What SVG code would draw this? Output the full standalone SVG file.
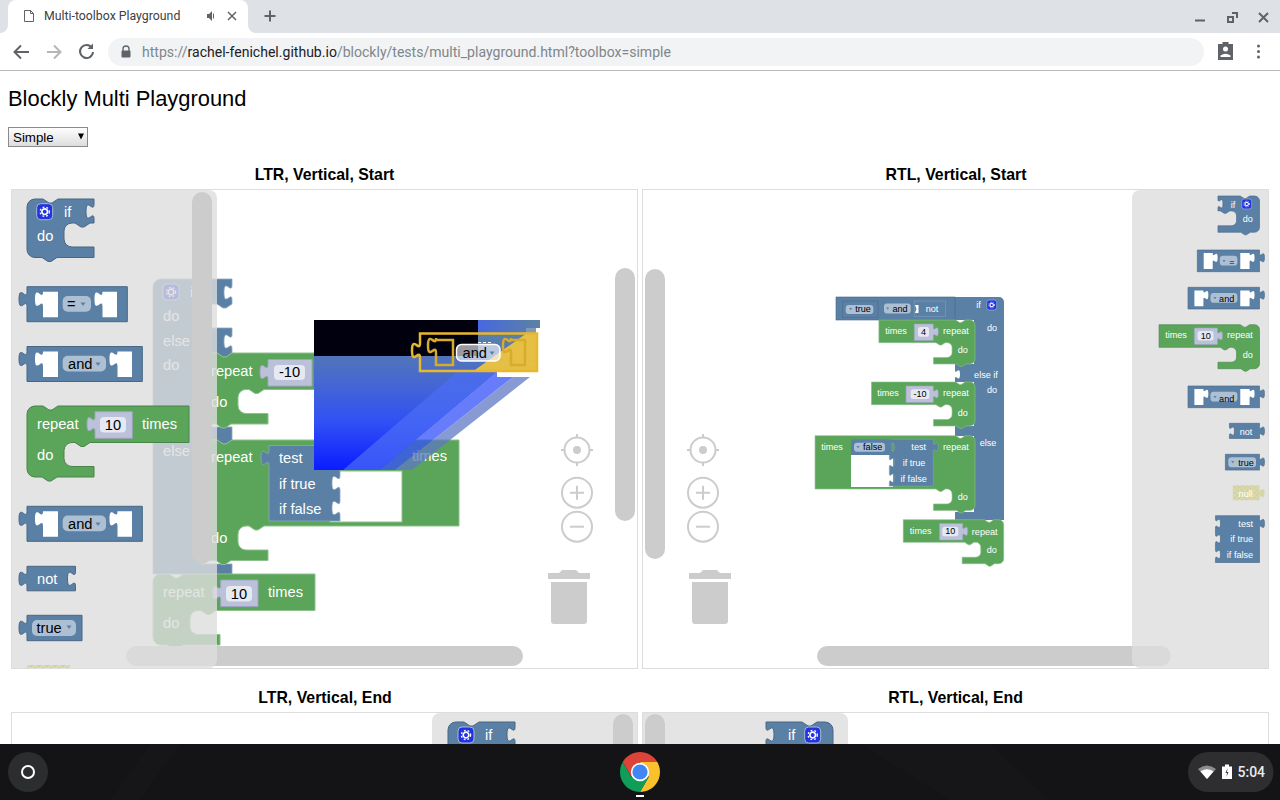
<svg xmlns="http://www.w3.org/2000/svg" width="1280" height="800" viewBox="0 0 1280 800">
<style>
text{font-family:"Liberation Sans",Arial,sans-serif}
.c{font-family:Roboto,"Liberation Sans",sans-serif}
.bl{fill:#5b80a5;stroke:#496684;stroke-width:1}
.gr{fill:#5ba55b;stroke:#498449;stroke-width:1}
.ml{fill:#5b80a5;stroke:#8ca6c0;stroke-width:.8}
.mg{fill:#5ba55b;stroke:#8cc08c;stroke-width:1}
.sh{fill:#bcc1da;stroke:#9ea3c0;stroke-width:1}
.hole{fill:#fff}
.fld{fill:#e6e8f2}
.dd{fill:#adbfd2}
.t{fill:#fff;font-size:14.67px}
.k{fill:#000;font-size:14.67px}
.st{fill:#fff;font-size:9.1px;text-anchor:middle}
.sk{fill:#000;font-size:9.1px;text-anchor:middle}
.m{text-anchor:middle}
.a{fill:#5f7fa5}
.sb{fill:#ccc}
.ctl{fill:none;stroke:#ccc;stroke-width:2}
.ctf{fill:#ccc}
.ws{fill:#fff;stroke:#ddd;stroke-width:1}
.fly{fill:#ddd;opacity:.8}
.hd{font-size:15.85px;font-weight:bold;fill:#000;text-anchor:middle}
.ic{fill:none;stroke:#5f6368;stroke-width:2}
.icg{fill:none;stroke:#b4b6b8;stroke-width:2}
</style>
<defs>
<path id="ifB" d="M0 8a8 8 0 0 1 8-8h8l6 4h3l6-4h36v5c0 10-8-8-8 7.5s8-2.5 8 7.5v4h-4l-6 4h-3l-6-4h-3a8 8 0 0 0-8 8v8a8 8 0 0 0 8 8h22v10.5H30l-6 4h-3l-6-4H8a8 8 0 0 1-8-8z"/>
<path id="rep162" d="M0 8a8 8 0 0 1 8-8h8l6 4h3l6-4H162V36.5H63l-6 4h-3l-6-4h-3a8 8 0 0 0-8 8v8a8 8 0 0 0 8 8h22v10.5H30l-6 4h-3l-6-4H8a8 8 0 0 1-8-8z"/>
<path id="rep170" d="M0 8a8 8 0 0 1 8-8h8l6 4h3l6-4H170V36.5H63l-6 4h-3l-6-4h-3a8 8 0 0 0-8 8v8a8 8 0 0 0 8 8h22v10.5H30l-6 4h-3l-6-4H8a8 8 0 0 1-8-8z"/>
<path id="rep167" d="M0 8a8 8 0 0 1 8-8h8l6 4h3l6-4H167V36.5H63l-6 4h-3l-6-4h-3a8 8 0 0 0-8 8v8a8 8 0 0 0 8 8h22v10.5H30l-6 4h-3l-6-4H8a8 8 0 0 1-8-8z"/>
<path id="rep155" d="M0 8a8 8 0 0 1 8-8h8l6 4h3l6-4H155V36.5H63l-6 4h-3l-6-4h-3a8 8 0 0 0-8 8v8a8 8 0 0 0 8 8h22v10.5H30l-6 4h-3l-6-4H8a8 8 0 0 1-8-8z"/>
<path id="rep258" d="M0 8a8 8 0 0 1 8-8h8l6 4h3l6-4H258V86H63l-6 4h-3l-6-4h-3a8 8 0 0 0-8 8v8a8 8 0 0 0 8 8h22v10.5H30l-6 4h-3l-6-4H8a8 8 0 0 1-8-8z"/>
<path id="sh37" d="M0 0H37.3V26.6H0V20c0-10-8 8-8-7.5s8 2.5 8-7.5z"/>
<path id="sh44" d="M0 0H44V26.6H0V20c0-10-8 8-8-7.5s8 2.5 8-7.5z"/>
<path id="sh31" d="M0 0H30.6V26.6H0V20c0-10-8 8-8-7.5s8 2.5 8-7.5z"/>
<path id="test" d="M0 0H71V5c0 10-8-8-8 7.5s8-2.5 8 7.5V30c0 10-8-8-8 7.5s8-2.5 8 7.5V55c0 10-8-8-8 7.5s8-2.5 8 7.5V75.5H0V20c0-10-8 8-8-7.5s8 2.5 8-7.5z"/>
<path id="not" d="M0 0H48.5V5c0 10-8-8-8 7.5s8-2.5 8 7.5V24.5H0V20c0-10-8 8-8-7.5s8 2.5 8-7.5z"/>
<path id="true" d="M0 0H55V25.4H0V20c0-10-8 8-8-7.5s8 2.5 8-7.5z"/>
<path id="nul" d="M0 0H43V24H0V20c0-10-8 8-8-7.5s8 2.5 8-7.5z"/>
<g id="eq"><path d="M0 0H100.3V35H0V20c0-10-8 8-8-7.5s8 2.5 8-7.5z"/><path class="hole" stroke="none" d="M16 5H31V30.5H16V20c0-10-8 8-8-7.5s8 2.5 8-7.5zM75.5 5H90V30.5H75.5V20c0-10-8 8-8-7.5s8 2.5 8-7.5z"/><rect class="dd" stroke="none" x="35.7" y="9.3" width="28.3" height="15.7" rx="5"/></g>
<g id="and"><path d="M0 0H115.3V35H0V20c0-10-8 8-8-7.5s8 2.5 8-7.5z"/><path class="hole" stroke="none" d="M16 5H31V30.5H16V20c0-10-8 8-8-7.5s8 2.5 8-7.5zM90.5 5H105V30.5H90.5V20c0-10-8 8-8-7.5s8 2.5 8-7.5z"/><rect class="dd" stroke="none" x="35.7" y="9.3" width="43.3" height="15.7" rx="5"/></g>
<path id="arr" d="M-2.5-1.5H2.5L0 2z"/>
<g id="gear"><rect x="-8" y="-8" width="16" height="16" rx="4" fill="#2233e0" stroke="#a9b9d6" stroke-width="1"/><circle r="2.8" fill="none" stroke="#fff" stroke-width="1.7"/><circle r="4.6" fill="none" stroke="#fff" stroke-width="1.3" stroke-dasharray="1.8 2"/></g>
<g id="target"><circle class="ctl" r="12.5" stroke-width="2.4"/><circle class="ctf" r="4"/><path class="ctl" d="M0-16v3.5M0 16v-3.5M-16 0h3.5M16 0h-3.5"/></g>
<g id="plus"><circle class="ctl" r="15"/><path class="ctl" d="M-7 0H7M0-7V7"/></g>
<g id="minus"><circle class="ctl" r="15"/><path class="ctl" d="M-7 0H7"/></g>
<g id="trash"><path class="ctf" d="M0 3H11L14 0H28L31 3H42V9H0zM3 12H39V51a3 3 0 0 1-3 3H6a3 3 0 0 1-3-3z"/></g>
<pattern id="hatch" width="8" height="8" patternUnits="userSpaceOnUse"><rect width="8" height="8" fill="#d2d2a0"/><path d="M0 0L4 4L8 0M0 8L4 4L8 8" fill="none" stroke="#dfdfb8" stroke-width="1.4"/></pattern>
<linearGradient id="gBlue" x1="0" y1="0" x2="0" y2="1"><stop offset="0" stop-color="#5b80a5"/><stop offset=".35" stop-color="#4668d0"/><stop offset=".65" stop-color="#3150f5"/><stop offset="1" stop-color="#0a1cff"/></linearGradient>
<linearGradient id="gTop" x1="0" y1="0" x2="1" y2="0"><stop offset="0" stop-color="#4668e0"/><stop offset="1" stop-color="#5b80a5"/></linearGradient>
<linearGradient id="sel" x1="0" y1="0" x2="0" y2="1"><stop offset="0" stop-color="#fff"/><stop offset="1" stop-color="#dcdcdc"/></linearGradient>
<clipPath id="cw1"><rect x="12" y="190" width="625" height="478"/></clipPath>
</defs>

<rect width="1280" height="800" fill="#fff"/>

<g id="browser-chrome">
<rect width="1280" height="70" fill="#fff"/>
<rect width="1280" height="33" fill="#dee1e6"/>
<path d="M0 33a8 8 0 0 0 8-8V8a8 8 0 0 1 8-8H240a8 8 0 0 1 8 8V25a8 8 0 0 0 8 8z" fill="#fff"/>
<path d="M24.5 10.5h6l3 3v8h-9z M30.5 10.5v3h3" fill="none" stroke="#5f6368" stroke-width="1"/>
<text class="c" x="44" y="20" font-size="12.3" fill="#3c4043">Multi-toolbox Playground</text>
<path d="M207 14h2l3-3v10l-3-3h-2z" fill="#5f6368"/><path d="M213.500 13.500v5" stroke="#5f6368" fill="none"/>
<path d="M228 12l8 8M236 12l-8 8" class="ic" style="stroke-width:1.500"/>
<path d="M270 10.500v11M264.500 16h11" class="ic"/>
<path d="M1195 20.500h10" class="ic"/>
<path d="M1232 13h5v5M1228 17h5v5h-5z" class="ic"/>
<path d="M1259 13l9 9M1268 13l-9 9" class="ic"/>
<path d="M29 52H15M21 45.500L14.500 52l6.500 6.500" class="ic"/>
<path d="M47 52H60M54 45.500L60.500 52L54 58.500" class="icg"/>
<path d="M92 48a6.500 6.500 0 1 0 1 4" class="ic"/><path d="M93 43.500v5.500h-5.500z" fill="#5f6368"/>
<rect x="108" y="38" width="1096" height="28" rx="14" fill="#f1f3f4"/>
<path d="M123 51v-2a3 3 0 0 1 6 0v2" fill="none" stroke="#5f6368" stroke-width="1.300"/><rect x="121.500" y="50.500" width="9" height="7" rx="1" fill="#5f6368"/>
<text class="c" x="142" y="57" font-size="14.05" fill="#80868b">https://<tspan fill="#202124">rachel-fenichel.github.io</tspan>/blockly/tests/multi_playground.html?toolbox=simple</text>
<path d="M1218 44h4.500v-2h6v2h4.500v16h-15z" fill="#5f6368"/><circle cx="1225.500" cy="49" r="2.500" fill="#fff"/><path d="M1220.500 57v-1.500q5-3.500 10 0V57z" fill="#fff"/>
<circle cx="1258.500" cy="46" r="1.500" fill="#5f6368"/><circle cx="1258.500" cy="51.500" r="1.500" fill="#5f6368"/><circle cx="1258.500" cy="57" r="1.500" fill="#5f6368"/>
<rect y="70" width="1280" height="1" fill="#b9b9b9"/>
</g>

<g id="page-head">
<text x="8" y="106" font-size="21.9" fill="#000">Blockly Multi Playground</text>
<rect x="8.500" y="127.500" width="79" height="19" fill="url(#sel)" stroke="#8a8a8a"/>
<text x="13" y="142" font-size="13.33" fill="#000">Simple</text>
<path d="M78 133.500h6l-3 6z" fill="#000"/>
<text class="hd" x="324.500" y="179.500">LTR, Vertical, Start</text>
<text class="hd" x="956" y="179.500">RTL, Vertical, Start</text>
<text class="hd" x="325" y="703">LTR, Vertical, End</text>
<text class="hd" x="955.500" y="703">RTL, Vertical, End</text>
</g>

<g id="workspace-ltr-start">
<rect class="ws" x="11.500" y="189.500" width="626" height="479"/>
<g id="main-ltr-blocks" clip-path="url(#cw1)">
<g id="ltr-if-spine">
<path class="ml" d="M153 287a8 8 0 0 1 8-8H232V285c0 10-8-8-8 7.500s8-2.500 8 7.500V304l-6 4h-3l-6-4H201V328H232V334c0 10-8-8-8 7.500s8-2.500 8 7.500V353l-6 4h-3l-6-4H201V427H232V440l-6 4h-3l-6-4H201V564H232V574l-6 4h-3l-6-4H153z"/>
<use href="#gear" transform="translate(171 292)"/>
<text class="t" x="190" y="297">if</text>
<text class="t" x="163" y="321">do</text>
<text class="t" x="163" y="346">else</text>
<text class="t" x="163" y="370">do</text>
<text class="t" x="163" y="456">else</text>
</g>
<g id="ltr-repeat-1">
<use href="#rep170" class="mg" transform="translate(201 353)"/>
<use href="#sh44" class="sh" transform="translate(268 359.500)"/>
<rect class="fld" x="274" y="365" width="31" height="15" rx="4"/>
<text class="k m" x="289.500" y="377">-10</text>
<text class="t" x="211" y="376">repeat</text>
<text class="t" x="211" y="407">do</text>
</g>
<g id="ltr-repeat-2">
<use href="#rep258" class="mg" transform="translate(201 440)"/>
<rect x="330" y="471" width="72" height="51" fill="#fff" stroke="#8cc08c"/>
<use href="#test" class="ml" transform="translate(269 445.500)"/>
<text class="t" x="211" y="462">repeat</text>
<text class="t" x="279" y="463">test</text>
<text class="t" x="279" y="489">if true</text>
<text class="t" x="279" y="514">if false</text>
<text class="t" x="412" y="461">times</text>
<text class="t" x="211" y="543">do</text>
</g>
<g id="ltr-repeat-3">
<use href="#rep162" class="mg" transform="translate(153 574)"/>
<use href="#sh37" class="sh" transform="translate(220.700 580)"/>
<rect class="fld" x="226" y="586" width="26" height="15.500" rx="4"/>
<text class="k m" x="239" y="598.500">10</text>
<text class="t" x="163" y="597">repeat</text>
<text class="t" x="163" y="628">do</text>
<text class="t" x="268" y="597">times</text>
</g>
</g>
<g id="drag-glitch">
<rect x="314" y="320" width="164" height="36" fill="#00000f"/>
<rect x="478" y="320" width="58" height="14" fill="url(#gTop)"/>
<rect x="536" y="320" width="4" height="8" fill="#5b80a5"/>
<rect x="526" y="328" width="10" height="5" fill="#8099bb"/>
<polygon points="314,356 478,356 478,333 537,333 537,372 497,372 380,470 314,470" fill="url(#gBlue)"/>
<polygon points="343,470 457,372 497,372 380,470" fill="#4c6ef5" opacity=".7"/>
<polygon points="380,470 497,372 513,377 395,470" fill="#3450f8" opacity=".75"/>
<polygon points="395,470 513,377 530,377 412,470" fill="#5f78c4" opacity=".75"/>
<rect x="497" y="372" width="30" height="5" fill="#fff"/>
<path d="M478 342.500h15" stroke="#fff" stroke-dasharray="3 2"/>
<polygon points="472,372 527,333 537,333 537,372" fill="#fbc934" opacity=".88"/>
<g id="drag-and">
<path d="M420 333.500H537V371H420V358c0-10-8 8-8-7.500s8 2.500 8-7.500z" fill="none" stroke="#e8b82c" stroke-width="2.500"/>
<path d="M436 340H453V365H436V353c0-10-8 8-8-7.500s8 2.500 8-7.500z" fill="none" stroke="#d9ab2a" stroke-width="2.500"/>
<path d="M511 340H525V365H511V353c0-10-8 8-8-7.500s8 2.500 8-7.500z" fill="none" stroke="#d9ab2a" stroke-width="2.500"/>
<rect x="456.500" y="344.500" width="43.500" height="16.500" rx="5" fill="#fff" fill-opacity=".6" stroke="#fff" stroke-width="1.500"/>
<text class="k" x="462.500" y="358">and</text>
<use href="#arr" class="a" transform="translate(492 353)"/>
</g>
</g>
<g id="ltr-controls">
<use href="#target" transform="translate(577 450)"/>
<use href="#plus" transform="translate(577 492.700)"/>
<use href="#minus" transform="translate(577 526.700)"/>
<use href="#trash" transform="translate(548 570)"/>
</g>
<rect class="sb" x="615" y="268" width="20" height="253" rx="10"/>
<rect class="sb" x="126" y="646" width="397" height="20" rx="10"/>
<path class="fly" d="M12 190H209a8 8 0 0 1 8 8V660a8 8 0 0 1-8 8H12z"/>
<rect class="sb" x="192" y="192" width="20" height="372" rx="10"/>
<g id="ltr-flyout-blocks" clip-path="url(#cw1)">
<g id="f-if"><use href="#ifB" class="bl" transform="translate(27 199)"/><use href="#gear" transform="translate(44.700 211.700)"/><text class="t" x="64" y="217">if</text><text class="t" x="37" y="241">do</text></g>
<g id="f-eq"><use href="#eq" class="bl" transform="translate(27 286.700)"/><text class="k" x="67" y="309">=</text><use href="#arr" class="a" transform="translate(83 304)"/></g>
<g id="f-and"><use href="#and" class="bl" transform="translate(27 346.500)"/><text class="k" x="68" y="369">and</text><use href="#arr" class="a" transform="translate(98 364)"/></g>
<g id="f-repeat"><use href="#rep162" class="gr" transform="translate(27 406)"/><use href="#sh37" class="sh" transform="translate(95 411.700)"/><rect class="fld" x="100" y="417" width="26" height="15.500" rx="4"/><text class="k m" x="113" y="430">10</text><text class="t" x="37" y="429">repeat</text><text class="t" x="142" y="429">times</text><text class="t" x="37" y="460">do</text></g>
<g id="f-and2"><use href="#and" class="bl" transform="translate(27 506.300)"/><text class="k" x="68" y="529">and</text><use href="#arr" class="a" transform="translate(98 524)"/></g>
<g id="f-not"><use href="#not" class="bl" transform="translate(27 566.300)"/><text class="t" x="37" y="584">not</text></g>
<g id="f-true"><use href="#true" class="bl" transform="translate(27 615.300)"/><rect class="dd" x="32" y="620" width="44" height="16" rx="5"/><text class="k" x="36.500" y="633">true</text><use href="#arr" class="a" transform="translate(69 627)"/></g>
<g id="f-null"><use href="#nul" fill="url(#hatch)" transform="translate(27 665)"/></g>
</g>
</g>

<g id="workspace-rtl-start">
<rect class="ws" x="642.500" y="189.500" width="626" height="479"/>
<g id="rtl-if-spine">
<path fill="#5b80a5" d="M955 297H999a5 5 0 0 1 5 5V520H955V512H974V436H955V426H974V382H955V379c0-6.200 5 5 5-4.650s-5 1.550-5-4.650V364H974V320H955z"/>
<use href="#gear" transform="translate(991.700 305) scale(.62)"/>
<text class="st" x="978.500" y="308">if</text>
<text class="st" x="992" y="331">do</text>
<text class="st" x="986" y="378">else if</text>
<text class="st" x="992" y="393">do</text>
<text class="st" x="988" y="446">else</text>
</g>
<g id="rtl-value-row">
<rect x="836" y="297" width="119" height="23" fill="#5b80a5" stroke="#496684" stroke-width=".6"/>
<rect x="842.500" y="301" width="35.500" height="16.500" fill="none" stroke="#4c6e92" stroke-width=".7"/>
<rect x="914.500" y="301" width="31" height="15.500" fill="none" stroke="#7b99b8" stroke-width=".7"/>
<rect class="dd" x="845.700" y="305" width="27.600" height="9" rx="3"/>
<rect class="dd" x="884" y="303.500" width="26.700" height="10" rx="3"/>
<use href="#arr" class="a" transform="translate(850.700 309) scale(.62)"/>
<use href="#arr" class="a" transform="translate(887.700 308.500) scale(.62)"/>
<text class="sk" x="863" y="312">true</text>
<text class="sk" x="900" y="312">and</text>
<path d="M915 305h3.500v8H915l1.500-4z" fill="#fff"/>
<text class="st" x="932" y="312">not</text>
</g>
<g id="rtl-repeat-4">
<use href="#rep155" class="mg" transform="translate(975 320) scale(-.62 .62)"/>
<use href="#sh31" class="sh" transform="translate(933.300 324) scale(-.62 .62)"/>
<rect class="fld" x="918" y="327" width="11" height="9.700" rx="2.500"/>
<text class="sk" x="923.500" y="335">4</text>
<text class="st" x="956" y="334">repeat</text>
<text class="st" x="896" y="334">times</text>
<text class="st" x="962.700" y="353">do</text>
</g>
<g id="rtl-repeat-10">
<use href="#rep167" class="mg" transform="translate(975 382) scale(-.62 .62)"/>
<use href="#sh44" class="sh" transform="translate(933.300 386) scale(-.62 .62)"/>
<rect class="fld" x="910.700" y="389.300" width="18.600" height="9.700" rx="2.500"/>
<text class="sk" x="920" y="396.500">-10</text>
<text class="st" x="956" y="396">repeat</text>
<text class="st" x="888" y="396">times</text>
<text class="st" x="962.700" y="416">do</text>
</g>
<g id="rtl-repeat-test">
<use href="#rep258" class="mg" transform="translate(975 435.700) scale(-.62 .62)"/>
<rect x="851" y="455" width="42" height="32" fill="#fff"/>
<use href="#test" class="ml" transform="translate(933.300 439.300) scale(-.62 .62)"/>
<rect x="851" y="439.500" width="40" height="15.500" fill="#5b80a5"/>
<rect class="dd" x="854" y="442.700" width="31" height="9" rx="3"/>
<use href="#arr" class="a" transform="translate(858 447) scale(.62)"/>
<text class="sk" x="872.700" y="450">false</text>
<text class="st" x="918.700" y="450">test</text>
<text class="st" x="914" y="466">if true</text>
<text class="st" x="913.700" y="482">if false</text>
<text class="st" x="956" y="450">repeat</text>
<text class="st" x="832" y="450">times</text>
<text class="st" x="962.700" y="500">do</text>
</g>
<g id="rtl-repeat-bottom">
<use href="#rep162" class="mg" transform="translate(1003.700 519.700) scale(-.62 .62)"/>
<use href="#sh37" class="sh" transform="translate(962.700 523.500) scale(-.62 .62)"/>
<rect class="fld" x="942.300" y="526.700" width="16" height="9.500" rx="2.500"/>
<text class="sk" x="950.300" y="534">10</text>
<text class="st" x="984.700" y="534.500">repeat</text>
<text class="st" x="920.700" y="534">times</text>
<text class="st" x="991.700" y="553">do</text>
</g>
<g id="rtl-controls">
<use href="#target" transform="translate(703 450)"/>
<use href="#plus" transform="translate(703 492.700)"/>
<use href="#minus" transform="translate(703 526.700)"/>
<use href="#trash" transform="translate(689 570)"/>
</g>
<rect class="sb" x="645" y="269" width="20" height="290" rx="10"/>
<rect class="sb" x="817" y="646" width="354" height="20" rx="10"/>
<path class="fly" d="M1268 190H1140a8 8 0 0 0-8 8V660a8 8 0 0 0 8 8H1268z"/>
<g id="rtl-flyout-blocks">
<g id="r-if"><use href="#ifB" class="bl" transform="translate(1259.500 196) scale(-.62 .62)"/><use href="#gear" transform="translate(1246.700 204) scale(.62)"/><text class="st" x="1233" y="207.500">if</text><text class="st" x="1247.700" y="222">do</text></g>
<g id="r-eq"><use href="#eq" class="bl" transform="translate(1259.500 250) scale(-.62 .62)"/><text class="sk" x="1232" y="265">=</text><use href="#arr" class="a" transform="translate(1224 261) scale(.62)"/></g>
<g id="r-and"><use href="#and" class="bl" transform="translate(1259.500 287.300) scale(-.62 .62)"/><text class="sk" x="1226.700" y="302">and</text><use href="#arr" class="a" transform="translate(1215 298) scale(.62)"/></g>
<g id="r-repeat"><use href="#rep162" class="gr" transform="translate(1259.500 324.700) scale(-.62 .62)"/><use href="#sh37" class="sh" transform="translate(1217.500 328) scale(-.62 .62)"/><rect class="fld" x="1197.500" y="331" width="16" height="9.500" rx="2.500"/><text class="sk" x="1205.700" y="338.500">10</text><text class="st" x="1176" y="338">times</text><text class="st" x="1240" y="338">repeat</text><text class="st" x="1247.700" y="358">do</text></g>
<g id="r-and2"><use href="#and" class="bl" transform="translate(1259.500 386) scale(-.62 .62)"/><text class="sk" x="1226.700" y="401.500">and</text><use href="#arr" class="a" transform="translate(1215 397) scale(.62)"/></g>
<g id="r-not"><use href="#not" class="bl" transform="translate(1259.500 423.300) scale(-.62 .62)"/><text class="st" x="1246" y="435">not</text></g>
<g id="r-true"><use href="#true" class="bl" transform="translate(1259.500 454.300) scale(-.62 .62)"/><rect class="dd" x="1228.300" y="457.300" width="27.700" height="10" rx="3"/><text class="sk" x="1246" y="466">true</text><use href="#arr" class="a" transform="translate(1232.700 462) scale(.62)"/></g>
<g id="r-null"><use href="#nul" fill="url(#hatch)" transform="translate(1259.500 485.300) scale(-.62 .62)"/><text class="st" x="1245.700" y="496.500">null</text></g>
<g id="r-test"><use href="#test" class="bl" transform="translate(1259.500 515.700) scale(-.62 .62)"/><text class="st" x="1245.700" y="527">test</text><text class="st" x="1241.700" y="542">if true</text><text class="st" x="1240" y="558">if false</text></g>
</g>
</g>

<g id="workspace-ltr-end">
<rect class="ws" x="11.500" y="712.500" width="626" height="60"/>
<path class="fly" d="M637 713H440a8 8 0 0 0-8 8V760H637z"/>
<rect class="sb" x="613" y="714" width="20" height="60" rx="10"/>
<use href="#ifB" class="bl" transform="translate(448 722)"/>
<use href="#gear" transform="translate(466 735)"/>
<text class="t" x="485" y="740">if</text>
</g>
<g id="workspace-rtl-end">
<rect class="ws" x="642.500" y="712.500" width="626" height="60"/>
<path class="fly" d="M643 713H840a8 8 0 0 1 8 8V760H643z"/>
<rect class="sb" x="645" y="714" width="20" height="60" rx="10"/>
<use href="#ifB" class="bl" transform="translate(833 722) scale(-1 1)"/>
<use href="#gear" transform="translate(812.700 735)"/>
<text class="t" x="788" y="740">if</text>
</g>

<g id="shelf">
<rect y="744" width="1280" height="56" fill="#141416"/>
<path d="M110 800l40-56h30l-40 56zM860 744l90 56h100l-60-56z" fill="#161618"/>
<circle cx="28" cy="772" r="20" fill="#2c2d2f"/>
<circle cx="28" cy="772" r="6" fill="none" stroke="#fff" stroke-width="2"/>
<g id="chrome-icon" transform="translate(640 772)">
<path d="M-17.300-10A20 20 0 0 1 17.300-10H0L-8.660 5z" fill="#db4437"/>
<path d="M17.300-10A20 20 0 0 1 0 20L8.660 5L0-10z" fill="#fbc02d"/>
<path d="M0 20A20 20 0 0 1-17.300-10L-8.660 5L8.660 5z" fill="#0f9d58"/>
<circle r="9.200" fill="#fff"/><circle r="7.600" fill="#4285f4"/>
</g>
<rect x="636" y="795" width="8" height="2" fill="#fff"/>
<rect x="1188" y="752" width="85.500" height="40" rx="20" fill="#2e2e30"/>
<path d="M1207 779L1198 769Q1207 762 1216 769z" fill="#8c8c8c"/><path d="M1207 779L1200.500 771.500Q1207 767 1213.500 771.500z" fill="#fff"/>
<path d="M1222 766.500h3v-2h4v2h3V779h-10z" fill="#fff"/><path d="M1227.500 768l-2 5h1.500l-.5 4 2-5h-1.500z" fill="#444"/>
<text class="c" x="1237.500" y="777" font-size="14" font-weight="500" fill="#e8eaed">5:04</text>
</g>
</svg>
